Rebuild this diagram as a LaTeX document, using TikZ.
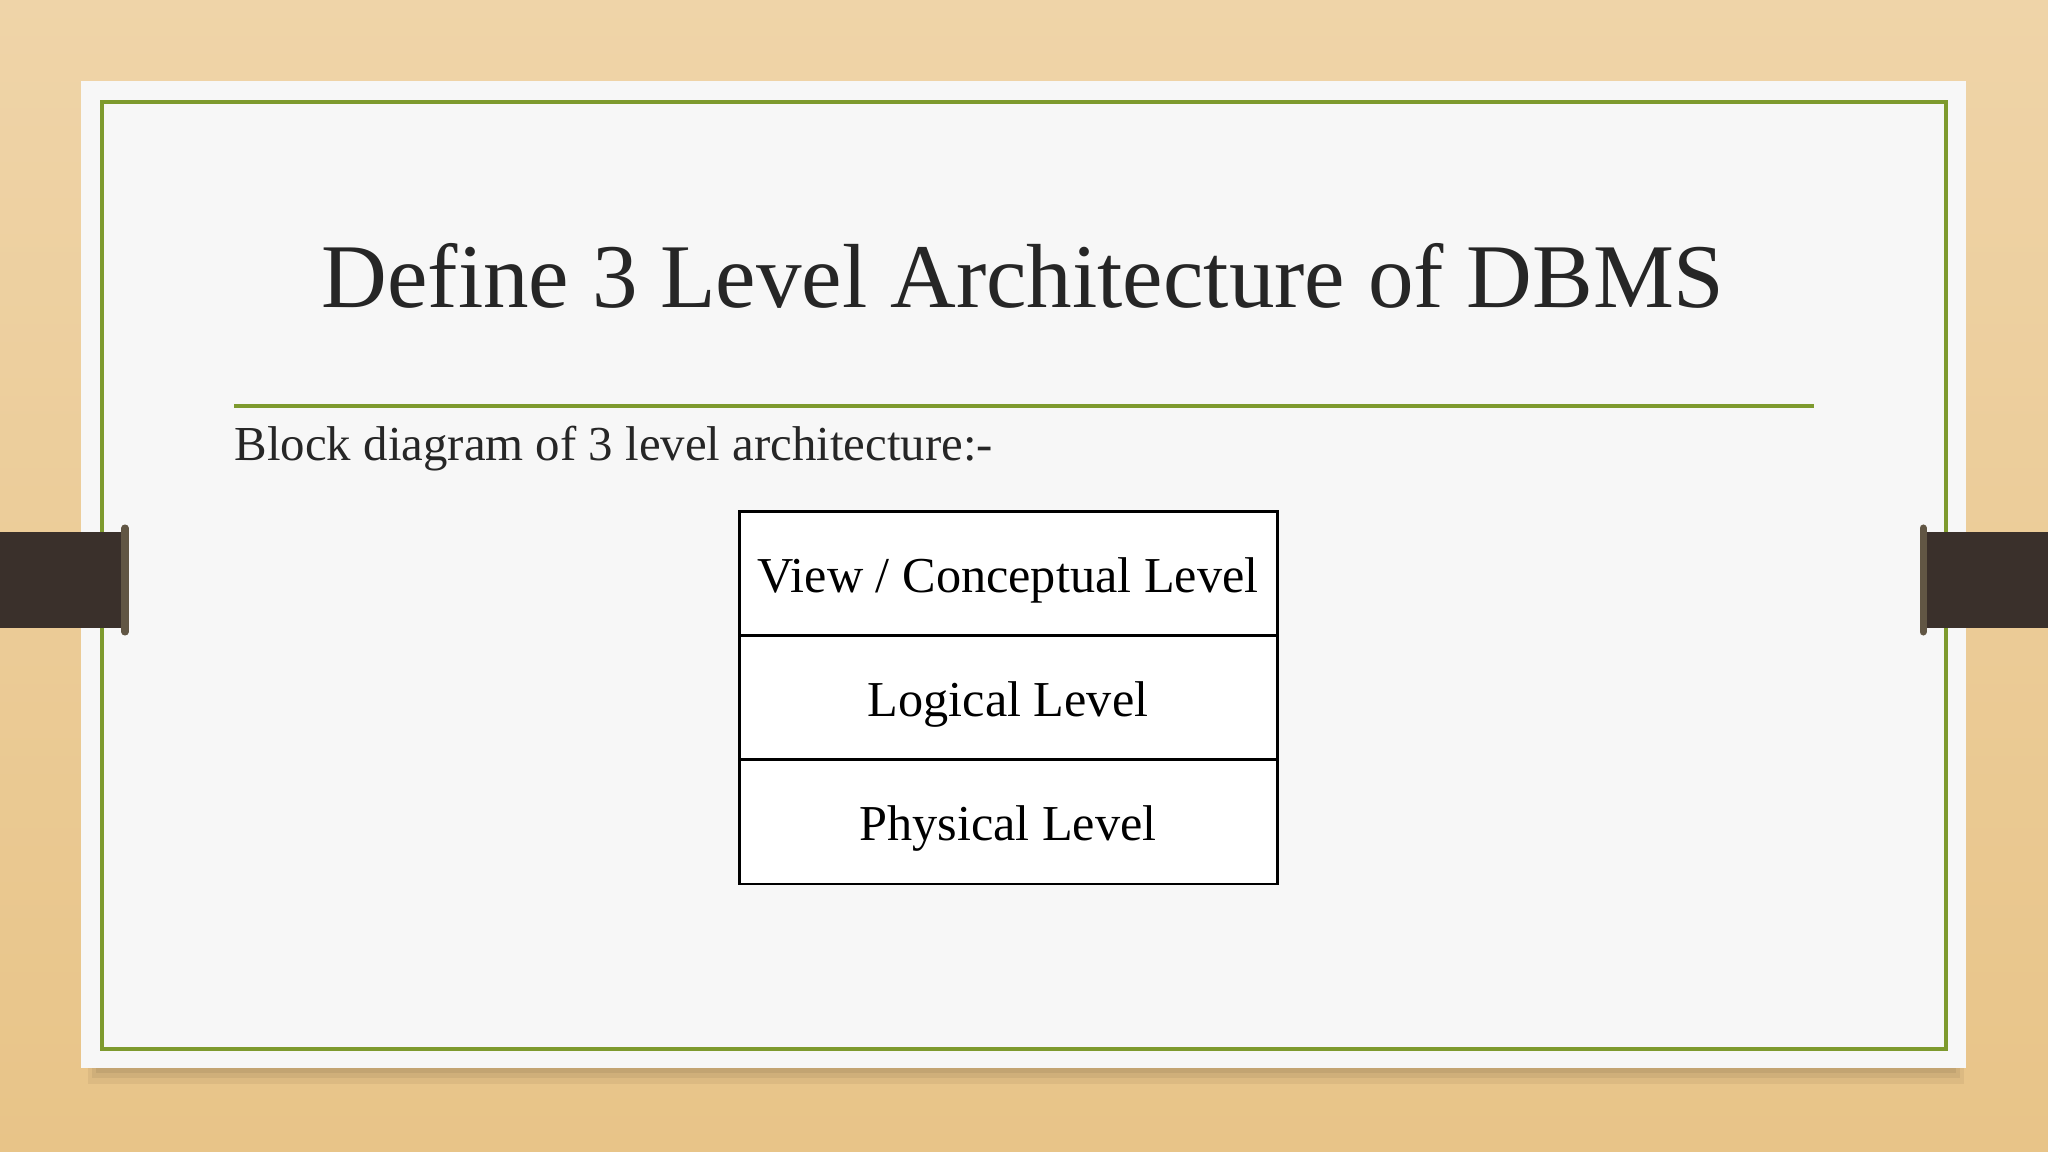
\documentclass[tikz,border=0pt]{standalone}
\usepackage{fontspec}
\setmainfont{Liberation Serif}
\usetikzlibrary{positioning}
\definecolor{wood}{HTML}{E8C488}
\definecolor{woodlight}{HTML}{EFD4A8}
\definecolor{card}{HTML}{F7F7F7}
\definecolor{olive}{HTML}{7E9A2E}
\definecolor{strap}{HTML}{3A302B}
\definecolor{knob}{HTML}{615644}
\definecolor{ink}{HTML}{262626}

\begin{document}
\begin{tikzpicture}[x=0.1mm,y=-0.1mm,node distance=0pt,
    level/.style={draw=black,line width=0.85pt,fill=white,minimum width=5.38cm,
      minimum height=1.24cm,inner sep=0pt,outer sep=0pt,text height=1.3em,text depth=0.23em,
      font=\fontsize{14.3}{17}\selectfont}]
  \useasboundingbox (0,0) rectangle (2048,1152);
  % wood and slide
  \shade[top color=woodlight,bottom color=wood] (0,0) rectangle (2048,1152);
  \fill[black,opacity=0.05] (88,1066) rectangle (1964,1084);
  \fill[black,opacity=0.06] (92,1066) rectangle (1960,1078);
  \fill[black,opacity=0.06] (96,1066) rectangle (1956,1073);
  \fill[card] (81,81) rectangle (1966,1068);
  \draw[olive,line width=0.9pt] (102,102) rectangle (1946,1049);
  % straps
  \fill[strap] (0,532) rectangle (128,628);
  \fill[strap] (1921,532) rectangle (2048,628);
  \draw[knob,line width=2pt,line cap=round] (125,528) -- (125,632);
  \draw[knob,line width=2pt,line cap=round] (1923,528) -- (1923,632);
  % text
  \node[ink,anchor=base,font=\fontsize{25.9}{31}\selectfont] (title) at (1023,308) {Define 3 Level Architecture of DBMS};
  \draw[olive,line width=0.9pt] (234,406) -- (1814,406);
  \node[ink,anchor=base west,inner sep=0pt,font=\fontsize{13.9}{17}\selectfont] (sub) at (234,461) {Block diagram of 3 level architecture:-};
  % levels
  \node[level] (view) at (1008,574) {View / Conceptual Level};
  \node[level,below=of view] (logical) {Logical Level};
  \node[level,below=of logical] (physical) {Physical Level};
\end{tikzpicture}
\end{document}
